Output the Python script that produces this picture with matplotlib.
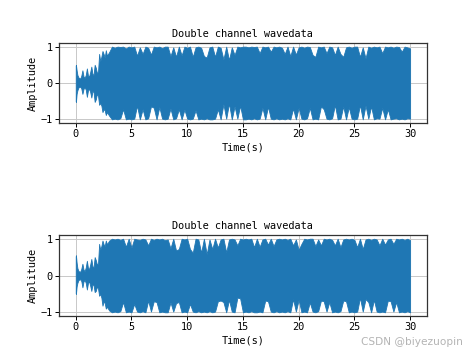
import numpy as np
import matplotlib
matplotlib.use('Agg')
import matplotlib.pyplot as plt

# start of the recording (attack), finer time steps
t_head = [0.0, 0.02, 0.08, 0.15, 0.25, 0.4, 0.5, 0.6, 0.7, 0.8, 0.9, 1.0,
          1.1, 1.2, 1.3, 1.4, 1.5, 1.6, 1.7, 1.8, 1.9, 2.0, 2.1, 2.2,
          2.3, 2.4, 2.5, 2.6, 2.7, 2.8, 2.9, 3.0]
# rest of the recording, envelope read every 0.25 s
t_body = np.arange(3.25, 30.01, 0.25)

ch1_head_up = [0.48, 0.5, 0.35, 0.22, 0.15, 0.12, 0.2, 0.35, 0.18, 0.14, 0.22, 0.4,
               0.2, 0.18, 0.3, 0.45, 0.25, 0.22, 0.5, 0.42, 0.28, 0.3, 0.8, 0.6,
               0.72, 0.88, 0.8, 0.7, 0.9, 0.75, 0.8, 0.85]
ch1_head_lo = [-0.5, -0.52, -0.3, -0.2, -0.12, -0.1, -0.15, -0.3, -0.16, -0.12, -0.18, -0.38,
               -0.2, -0.16, -0.25, -0.4, -0.22, -0.25, -0.52, -0.45, -0.3, -0.35, -0.6, -0.55,
               -0.62, -0.8, -0.72, -0.75, -0.88, -0.8, -0.85, -0.9]
ch1_body_up = [1.0, 0.97, 1.0, 0.99, 1.0, 0.95, 1.0, 0.98, 1.0, 0.75, 0.98, 0.8,
               1.0, 0.97, 0.78, 1.0, 0.98, 1.0, 0.96, 1.0, 1.0, 0.74, 0.98, 0.72,
               1.0, 0.76, 1.0, 0.97, 1.0, 0.72, 0.98, 1.0, 0.97, 0.74, 0.7, 0.98,
               1.0, 0.72, 1.0, 0.97, 0.65, 1.0, 0.63, 0.98, 0.77, 1.0, 0.98, 1.0,
               1.0, 0.98, 1.0, 0.99, 1.0, 0.82, 1.0, 0.98, 1.0, 0.86, 1.0, 0.98,
               1.0, 0.97, 0.8, 1.0, 0.74, 1.0, 0.78, 0.98, 1.0, 0.97, 1.0, 0.99,
               0.77, 0.72, 1.0, 0.98, 1.0, 0.82, 1.0, 0.98, 0.77, 1.0, 0.8, 0.72,
               0.98, 1.0, 0.97, 1.0, 1.0, 0.72, 0.98, 0.68, 1.0, 0.97, 1.0, 0.98,
               1.0, 0.82, 1.0, 0.98, 1.0, 0.97, 1.0, 0.99, 0.86, 1.0, 0.98, 0.95]
ch1_body_lo = [-1.0, -0.98, -1.0, -0.97, -0.72, -1.0, -0.98, -1.0, -0.98, -0.62, -1.0, -0.72,
               -1.0, -0.97, -0.64, -0.68, -1.0, -0.66, -0.98, -1.0, -0.98, -0.7, -1.0, -0.97,
               -0.72, -1.0, -0.73, -0.98, -1.0, -0.98, -0.75, -1.0, -0.98, -1.0, -0.97, -1.0,
               -1.0, -0.98, -0.72, -1.0, -0.58, -0.98, -0.56, -1.0, -0.64, -0.98, -0.62, -1.0,
               -1.0, -0.98, -1.0, -0.97, -1.0, -0.98, -0.68, -1.0, -0.65, -0.98, -1.0, -0.97,
               -1.0, -0.98, -1.0, -0.97, -1.0, -0.7, -1.0, -0.68, -0.98, -1.0, -0.97, -0.68,
               -1.0, -0.98, -1.0, -0.64, -0.72, -0.98, -1.0, -0.97, -0.6, -1.0, -0.98, -0.64,
               -1.0, -0.66, -0.98, -1.0, -0.98, -0.6, -1.0, -0.62, -0.98, -0.64, -1.0, -0.97,
               -0.98, -0.68, -1.0, -0.72, -1.0, -0.98, -0.97, -1.0, -0.98, -1.0, -0.97, -0.98]

ch2_head_up = [0.52, 0.55, 0.35, 0.2, 0.12, 0.1, 0.18, 0.32, 0.16, 0.12, 0.22, 0.4,
               0.2, 0.18, 0.3, 0.45, 0.25, 0.22, 0.5, 0.42, 0.3, 0.32, 0.86, 0.7,
               0.8, 0.95, 0.85, 0.8, 0.95, 0.85, 0.9, 0.95]
ch2_head_lo = [-0.48, -0.5, -0.3, -0.2, -0.12, -0.1, -0.15, -0.32, -0.16, -0.12, -0.2, -0.38,
               -0.2, -0.16, -0.28, -0.42, -0.24, -0.26, -0.45, -0.42, -0.3, -0.35, -0.55, -0.5,
               -0.6, -0.82, -0.7, -0.75, -0.9, -0.85, -0.9, -0.95]
ch2_body_up = [1.0, 0.98, 1.0, 0.97, 1.0, 0.78, 1.0, 0.76, 1.0, 0.98, 0.97, 1.0,
               0.98, 0.82, 1.0, 0.97, 1.0, 0.98, 1.0, 0.96, 0.98, 0.74, 1.0, 0.68,
               0.72, 1.0, 0.98, 1.0, 0.72, 0.62, 1.0, 0.98, 0.62, 1.0, 0.58, 0.98,
               0.72, 1.0, 0.76, 0.98, 1.0, 0.63, 0.98, 1.0, 0.98, 0.82, 1.0, 0.98,
               1.0, 0.98, 1.0, 0.77, 1.0, 0.78, 0.98, 1.0, 0.84, 1.0, 0.8, 0.98,
               1.0, 0.98, 1.0, 0.97, 1.0, 0.82, 0.98, 0.7, 0.86, 1.0, 0.98, 1.0,
               1.0, 0.8, 0.98, 0.82, 1.0, 0.98, 1.0, 0.97, 0.82, 1.0, 0.77, 0.98,
               1.0, 0.98, 1.0, 0.97, 0.77, 1.0, 0.72, 0.98, 1.0, 0.97, 1.0, 0.98,
               0.82, 1.0, 0.84, 0.98, 1.0, 0.86, 1.0, 0.98, 1.0, 0.97, 1.0, 0.96]
ch2_body_lo = [-1.0, -0.98, -1.0, -0.97, -0.72, -1.0, -0.98, -1.0, -0.77, -0.98, -1.0, -0.97,
               -1.0, -0.68, -0.98, -0.7, -0.72, -1.0, -0.98, -1.0, -1.0, -0.73, -0.98, -0.75,
               -0.72, -1.0, -0.98, -1.0, -0.77, -0.98, -1.0, -0.97, -1.0, -0.98, -1.0, -0.97,
               -1.0, -0.98, -0.7, -0.68, -0.72, -1.0, -0.66, -0.98, -1.0, -0.6, -0.62, -1.0,
               -0.98, -1.0, -0.97, -1.0, -1.0, -0.98, -1.0, -0.68, -0.7, -0.98, -1.0, -0.97,
               -1.0, -0.98, -1.0, -0.97, -1.0, -0.64, -0.98, -0.66, -1.0, -0.98, -1.0, -0.73,
               -0.98, -1.0, -0.97, -0.68, -0.7, -0.98, -0.72, -1.0, -0.98, -1.0, -0.97, -0.68,
               -0.7, -1.0, -0.98, -1.0, -0.98, -0.6, -0.98, -0.64, -0.72, -1.0, -0.66, -0.98,
               -1.0, -0.98, -1.0, -0.68, -0.7, -0.98, -0.72, -1.0, -0.98, -1.0, -0.97, -1.0]

t = np.concatenate([t_head, t_body])
channels = [
    (np.concatenate([ch1_head_up, ch1_body_up]), np.concatenate([ch1_head_lo, ch1_body_lo])),
    (np.concatenate([ch2_head_up, ch2_body_up]), np.concatenate([ch2_head_lo, ch2_body_lo])),
]

plt.rcParams['font.family'] = ['DejaVu Sans Mono']
plt.rcParams['font.size'] = 7.4

fig = plt.figure(figsize=(4.74, 3.55), dpi=100)
positions = [[0.1245, 0.6535, 0.776, 0.2254], [0.1245, 0.1099, 0.776, 0.228]]

for pos, (up, lo) in zip(positions, channels):
    ax = fig.add_axes(pos)
    ax.fill_between(t, lo, up, color='#1f77b4', linewidth=0.6, edgecolor='#1f77b4')
    ax.set_xlim(-1.5, 31.5)
    ax.set_ylim(-1.1, 1.1)
    ax.set_xticks([0, 5, 10, 15, 20, 25, 30])
    ax.set_yticks([-1, 0, 1])
    ax.set_title('Double channel wavedata', fontsize=7.4, pad=4)
    ax.set_xlabel('Time(s)', fontsize=7.4, labelpad=2)
    ax.set_ylabel('Amplitude', fontsize=7.4, labelpad=2)
    ax.grid(True, color='#c8c8c8', linewidth=0.7)
    ax.set_axisbelow(True)
    ax.tick_params(labelsize=7.4, length=2.6, width=0.7, pad=2)
    for s in ax.spines.values():
        s.set_linewidth(0.9)
        s.set_color('#333333')

fig.text(0.977, 0.037, 'CSDN @biyezuopin', ha='right', va='center',
         fontsize=7.6, color='#b4b4b4', family='DejaVu Sans')

fig.savefig('out.png', dpi=100)
